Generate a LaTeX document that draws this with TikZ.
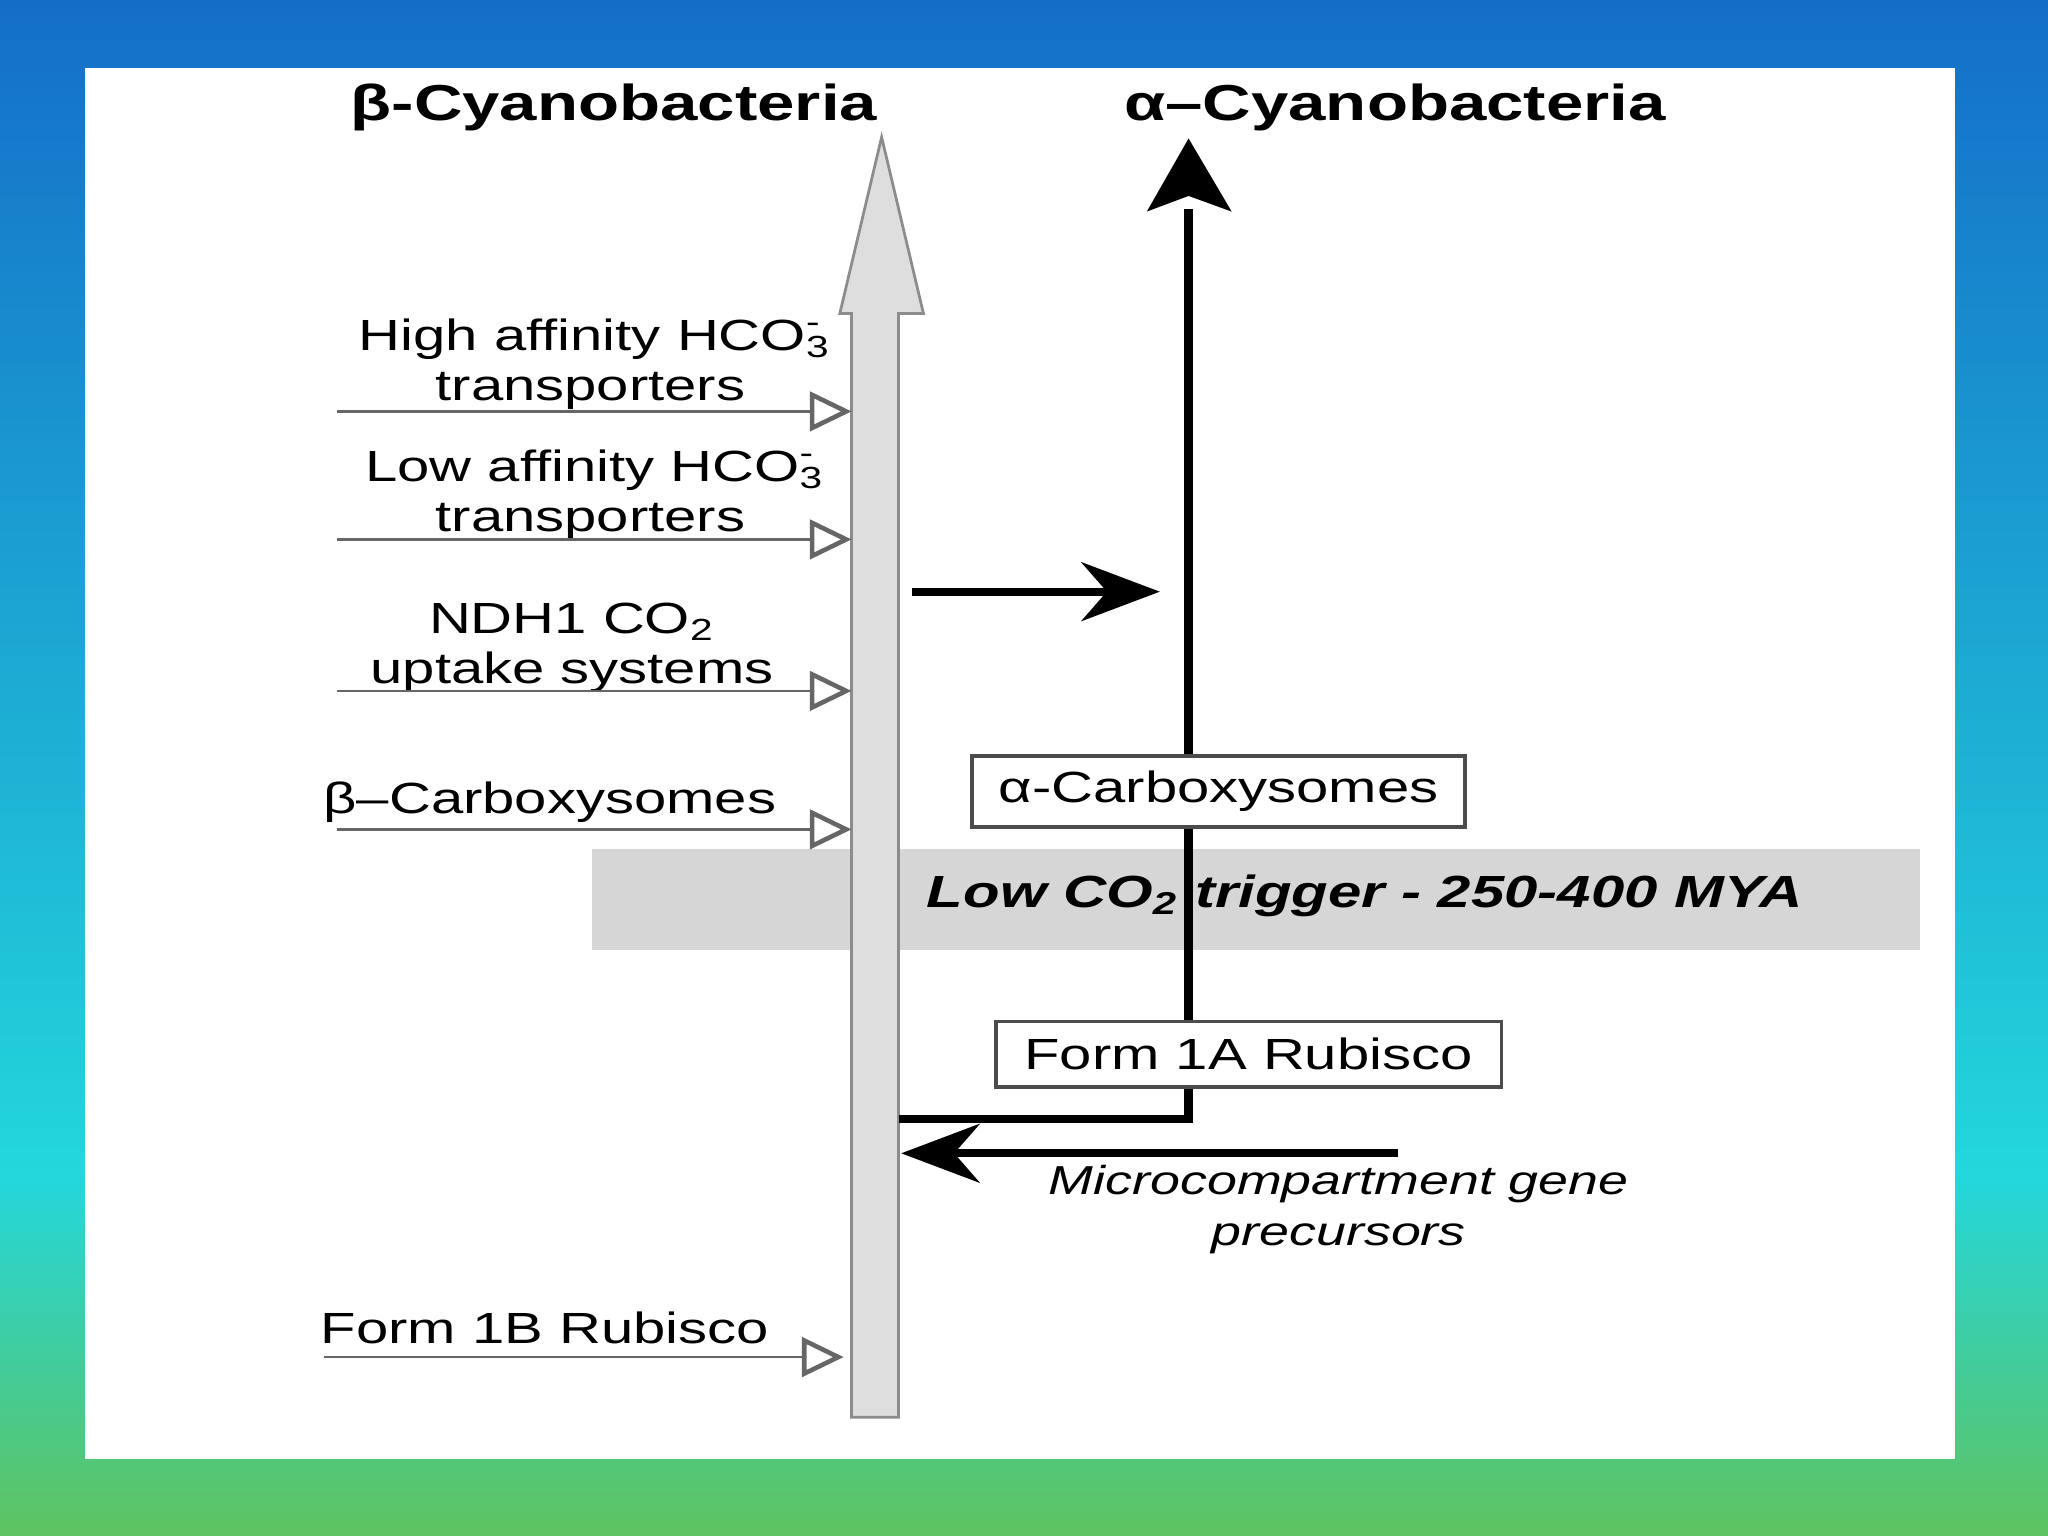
\documentclass[tikz,border=0pt]{standalone}
\usepackage{fontspec}
\setmainfont{Liberation Sans}[FakeStretch=1.33]
\usetikzlibrary{arrows.meta}
\newcommand{\hcothree}{HCO\rlap{\textsubscript{3}}\textsuperscript{-}}
\begin{document}
\begin{tikzpicture}[x=0.01cm,y=-0.01cm,
  lbl/.style={font=\fontsize{9.5}{11}\selectfont,align=center,inner sep=0pt},
  ttl/.style={font=\bfseries\fontsize{11}{13}\selectfont,inner sep=0pt},
  boxn/.style={draw=black!70,line width=0.8pt,fill=white,font=\fontsize{9.5}{11}\selectfont,minimum height=0.5cm},
  tline/.style={draw=black!60,line width=0.5pt,-{Triangle[open,length=0.32cm,width=0.3cm,line width=1pt]}},
  blk/.style={line width=1.8pt}]
\useasboundingbox (0,0) rectangle (1568,1176);
\shade[top color={rgb,255:red,20;green,110;blue,200},bottom color={rgb,255:red,35;green,215;blue,220}] (0,0) rectangle (1568,900);
\shade[top color={rgb,255:red,35;green,215;blue,220},bottom color={rgb,255:red,95;green,195;blue,95}] (0,900) rectangle (1568,1176);
\fill[white] (65,52) rectangle (1497,1117);
% band
\fill[black!16] (453,650) rectangle (1470,727);
% gray arrow
\draw[black!45,fill=black!13,line width=0.6pt] (652,1085) -- (652,240) -- (643,240) -- (675,105) -- (707,240) -- (688,240) -- (688,1085) -- cycle;
\node[ttl] (tb) at (470,82) {β-Cyanobacteria};
\node[ttl] (ta) at (1068,82) {α–Cyanobacteria};
\coordinate (bot) at (910,857);
\coordinate (top) at (910,106);
\coordinate (gj) at (688,857);
\node[font=\bfseries\itshape\fontsize{9.8}{12}\selectfont] (band) at (1045,686) {Low CO\textsubscript{2} trigger - 250-400 MYA};
\draw[blk] (gj) -- (bot) -- (910,160);
\fill (878,162) -- (top) -- (943,162) -- (910,150) -- cycle;
\node[boxn,minimum width=3.77cm] (ac) at (933,606) {α-Carboxysomes};
\node[boxn,minimum width=3.87cm] (f1a) at (956,807) {Form 1A Rubisco};
\coordinate (m1) at (1070,883); \coordinate (m2) at (690,883);
\draw[blk,-{Stealth[length=0.6cm,width=0.45cm]}] (m1) -- (m2);
\coordinate (h1) at (698,453); \coordinate (h2) at (888,453);
\draw[blk,-{Stealth[length=0.6cm,width=0.45cm]}] (h1) -- (h2);
\node[lbl,font=\itshape\fontsize{8.8}{11}\selectfont] (mc) at (1025,926) {Microcompartment gene\\precursors};
% left labels
\node[lbl] (l1) at (452,279) {High affinity \hcothree\\transporters};
\node[lbl] (l2) at (452,379) {Low affinity \hcothree\\transporters};
\node[lbl] (l3) at (438,496) {NDH1 CO\textsubscript{2}\\uptake systems};
\node[lbl,anchor=west] (l4) at (247,614) {β–Carboxysomes};
\node[lbl,anchor=west] (l5) at (245,1017) {Form 1B Rubisco};
\coordinate (a1) at (258,315); \coordinate (b1) at (652,315);
\coordinate (a2) at (258,413); \coordinate (b2) at (652,413);
\coordinate (a3) at (258,529); \coordinate (b3) at (652,529);
\coordinate (a4) at (258,635); \coordinate (b4) at (652,635);
\coordinate (a5) at (248,1039); \coordinate (b5) at (646,1039);
\foreach \i in {1,...,5} \draw[tline] (a\i) -- (b\i);
\end{tikzpicture}
\end{document}
